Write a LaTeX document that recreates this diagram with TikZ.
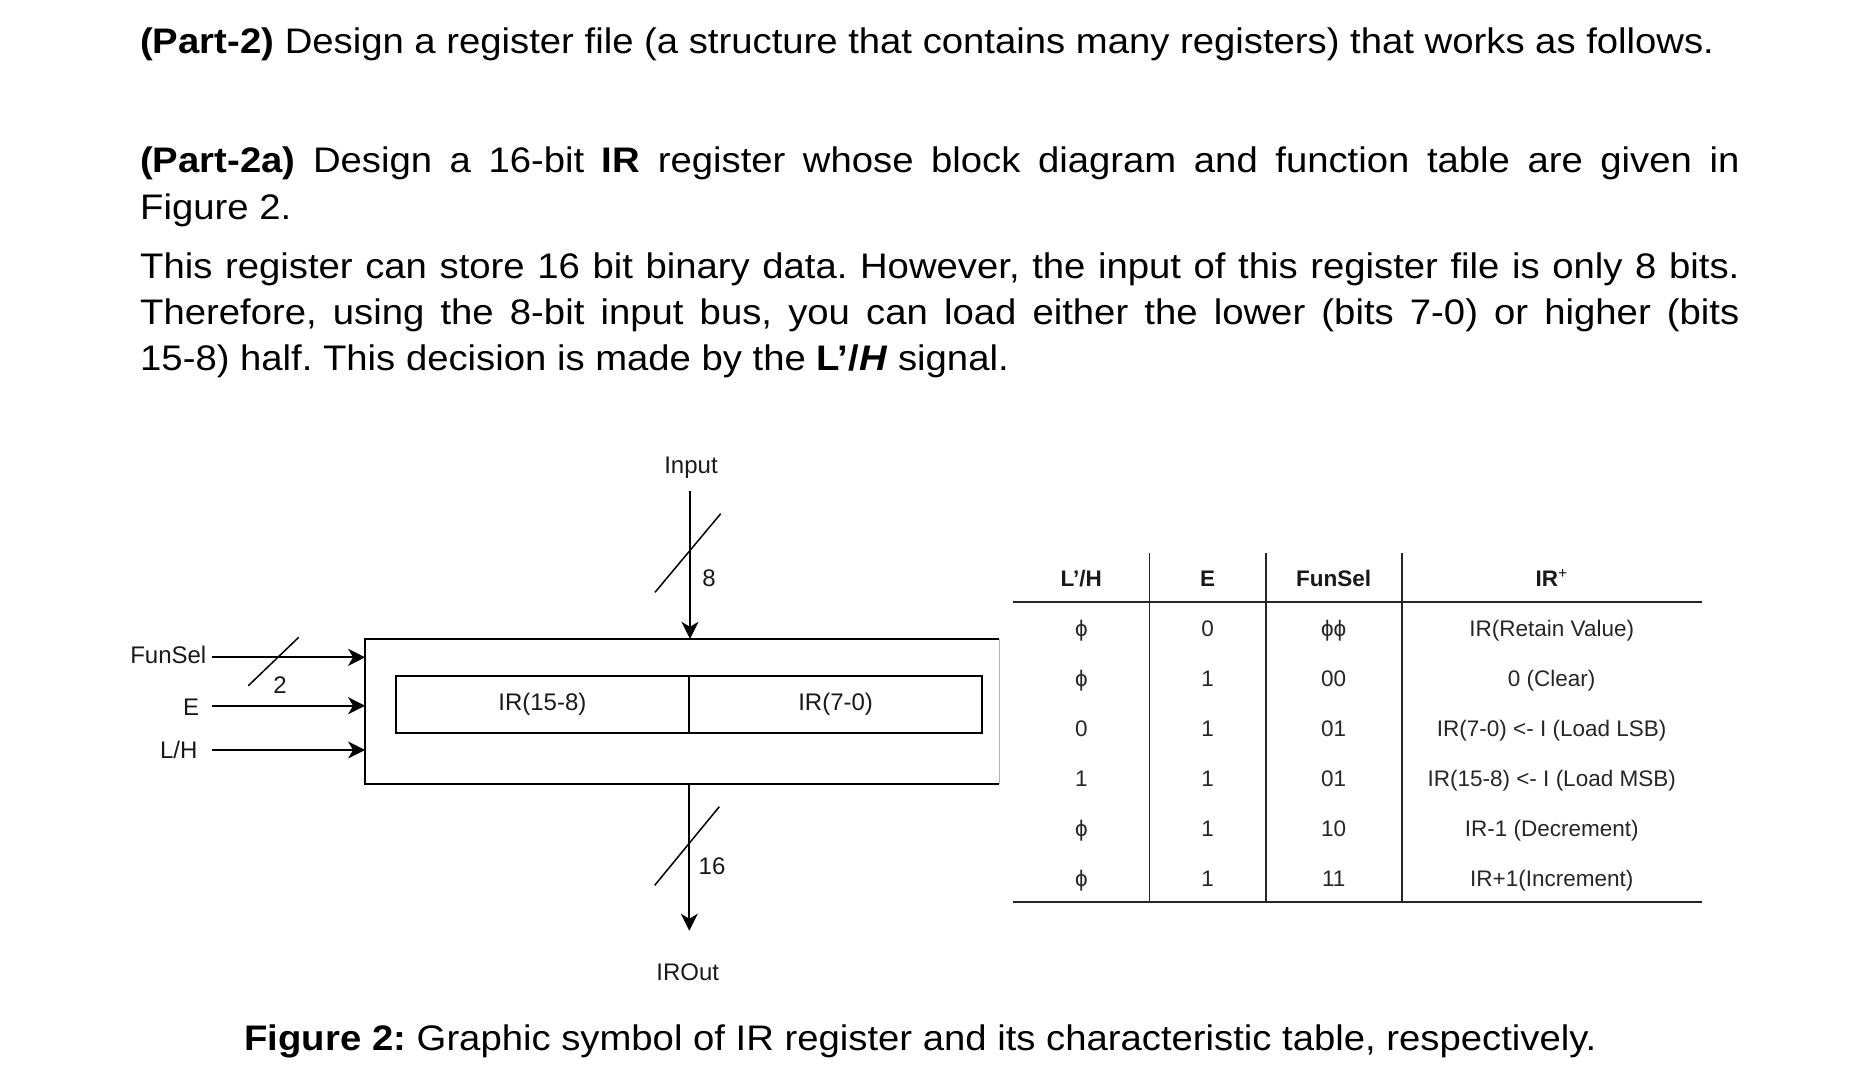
\documentclass[tikz,border=0pt]{standalone}
\usepackage{fontspec}
\setmainfont{Liberation Sans}
\newfontfamily\bodyfont[FakeStretch=1.078]{Liberation Sans}
\usetikzlibrary{arrows.meta}
\frenchspacing
\begin{document}
\begin{tikzpicture}[x=1pt,y=-1pt,
  body/.style={font=\bodyfont\fontsize{35.5}{46}\selectfont, inner sep=0pt, anchor=base west},
  lblfont/.style={font=\fontsize{24}{28}\selectfont, text=black!90},
  lbl/.style={lblfont, inner sep=0pt, anchor=base},
  tbl/.style={font=\fontsize{22.5}{26}\selectfont, inner sep=0pt, anchor=base, text=black!85},
  tblhead/.style={tbl, font=\fontsize{22.5}{26}\selectfont\bfseries, text=black!90},
  wire/.style={line width=1.8pt, -{Stealth[length=17pt,width=17pt,inset=5pt]}},
  slash/.style={line width=1.5pt},
  boxline/.style={line width=2pt},
  rule/.style={line width=1.6pt, draw=black!85},
  half/.style={lblfont, draw, line width=2pt, minimum width=293.3pt, minimum height=56.4pt, inner sep=0pt}
]
\useasboundingbox (0,0) rectangle (1852,1088);

% ---------- paragraph text ----------
\node[body] (p1) at (140,53.3) {\textbf{(Part-2)} Design a register file (a structure that contains many registers) that works as follows.};
\node[body] (p2) at (140,172.7) {\makebox[1599.3pt][s]{\textbf{(Part-2a)} Design a 16-bit \textbf{IR} register whose block diagram and function table are given in}};
\node[body] (p3) at (140,219.3) {Figure 2.};
\node[body] (p4) at (140,278.3) {\makebox[1599.3pt][s]{This register can store 16 bit binary data. However, the input of this register file is only 8 bits.}};
\node[body] (p5) at (140,324) {\makebox[1599.3pt][s]{Therefore, using the 8-bit input bus, you can load either the lower (bits 7-0) or higher (bits}};
\node[body] (p6) at (140,370) {15-8) half. This decision is made by the \textbf{L’/\textit{H}} signal.};

% ---------- register block ----------
\node[minimum width=633.7pt, minimum height=145pt, inner sep=0pt] (reg) at (682.15,711.5) {};
\draw[boxline] (reg.north east) -- (reg.north west) -- (reg.south west) -- (reg.south east);
\draw[line width=1pt, draw=black!30] (reg.north east) -- (reg.south east);

\node[half] (hi) at (542.35,704.5) {IR(15-8)};
\node[half] (lo) at (835.65,704.5) {IR(7-0)};

% Input bus
\node[lbl] (inlbl) at (691,473.3) {Input};
\coordinate (inTop) at (690,491);
\draw[wire] (inTop) -- (inTop |- reg.north);
\coordinate (inS1) at (655,592.3);
\coordinate (inS2) at (720.7,513.7);
\draw[slash] (inS1) -- (inS2);
\node[lbl] (in8) at (709,586) {8};

% Output bus
\coordinate (outTop) at (689.3,784);
\coordinate (outEnd) at (689.3,930.7);
\draw[wire] (outTop) -- (outEnd);
\coordinate (outS1) at (654.7,885.3);
\coordinate (outS2) at (719.3,806.7);
\draw[slash] (outS1) -- (outS2);
\node[lbl] (out16) at (712,874.3) {16};
\node[lbl] (outlbl) at (687.8,980.7) {IROut};

% control inputs
\node[lbl, anchor=base east] (fslbl) at (206.5,663.3) {FunSel};
\coordinate (fsStart) at (212.3,657.3);
\draw[wire] (fsStart) -- (fsStart -| reg.west);
\coordinate (fsS1) at (248.3,685.7);
\coordinate (fsS2) at (298.7,637.3);
\draw[slash] (fsS1) -- (fsS2);
\node[lbl] (fs2) at (280,693.3) {2};

\node[lbl, anchor=base east] (elbl) at (199.3,715.3) {E};
\coordinate (eStart) at (212.3,705.7);
\draw[wire] (eStart) -- (eStart -| reg.west);

\node[lbl, anchor=base east] (lhlbl) at (197.7,758.3) {L/H};
\coordinate (lhStart) at (212.3,750);
\draw[wire] (lhStart) -- (lhStart -| reg.west);

% ---------- function table ----------
\coordinate (tRule) at (1012.7,601.7);
\coordinate (tBot) at (1012.7,901.7);
\coordinate (tRight) at (1701.7,601.7);
\draw[rule] (tRule) -- (tRight);
\draw[rule] (tBot) -- (tBot -| tRight);
\foreach \x [count=\k] in {1149.3,1265.7,1401.7} {
  \coordinate (vTop\k) at (\x,552.7);
  \draw[rule] (vTop\k) -- (vTop\k |- tBot);
}

\node[tblhead] (h1) at (1081.3,586) {L’/H};
\node[tblhead] (h2) at (1207.5,586) {E};
\node[tblhead] (h3) at (1333.7,586) {FunSel};
\node[tblhead] (h4) at (1551.7,586) {IR\textsuperscript{\normalfont+}};

\foreach \a/\b/\c/\d [count=\i from 0] in {
  ϕ/0/ϕϕ/IR(Retain Value),
  ϕ/1/00/0 (Clear),
  0/1/01/IR(7-0) <- I (Load LSB),
  1/1/01/IR(15-8) <- I (Load MSB),
  ϕ/1/10/IR-1 (Decrement),
  ϕ/1/11/IR+1(Increment)} {
  \node[tbl] (r\i a) at (1081.3,636+50.1*\i) {\a};
  \node[tbl] (r\i b) at (1207.5,636+50.1*\i) {\b};
  \node[tbl] (r\i c) at (1333.7,636+50.1*\i) {\c};
  \node[tbl] (r\i d) at (1551.7,636+50.1*\i) {\d};
}

% ---------- caption ----------
\node[body] (cap) at (244.3,1050) {\textbf{Figure 2:} Graphic symbol of IR register and its characteristic table, respectively.};
\end{tikzpicture}
\end{document}
